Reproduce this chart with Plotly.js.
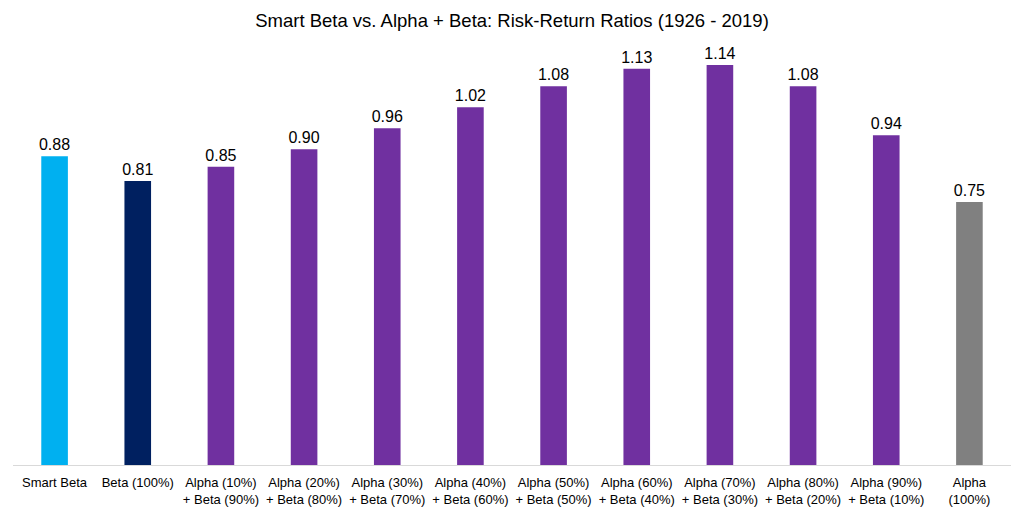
<!DOCTYPE html>
<html>
<head>
<meta charset="utf-8">
<script src="https://cdn.plot.ly/plotly-3.0.1.min.js"></script>
<style>
  html, body { margin: 0; padding: 0; background: #fff; }
  #myDiv { width: 1024px; height: 512px; }
</style>
</head>
<body>
<div id="myDiv"></div>
<script>
// categories along the x axis (two-line labels)
var categories = [
    'Smart Beta',
    'Beta (100%)',
    'Alpha (10%)<br>+ Beta (90%)',
    'Alpha (20%)<br>+ Beta (80%)',
    'Alpha (30%)<br>+ Beta (70%)',
    'Alpha (40%)<br>+ Beta (60%)',
    'Alpha (50%)<br>+ Beta (50%)',
    'Alpha (60%)<br>+ Beta (40%)',
    'Alpha (70%)<br>+ Beta (30%)',
    'Alpha (80%)<br>+ Beta (20%)',
    'Alpha (90%)<br>+ Beta (10%)',
    'Alpha<br>(100%)'
];

// risk-return ratios
var ratios = [0.88, 0.81, 0.85, 0.90, 0.96, 1.02, 1.08, 1.13, 1.14, 1.08, 0.94, 0.75];

var barColors = ['#00B0F0', '#002060',
    '#7030A0', '#7030A0', '#7030A0', '#7030A0', '#7030A0',
    '#7030A0', '#7030A0', '#7030A0', '#7030A0', '#808080'];

var trace = {
    x: categories,
    y: ratios,
    type: 'bar',
    marker: {color: barColors},
    text: ratios.map(function (v) { return v.toFixed(2); }),
    textposition: 'outside',
    constraintext: 'none',
    cliponaxis: false,
    textfont: {family: 'Liberation Sans, Arial, sans-serif', size: 16, color: '#000'},
    hoverinfo: 'none'
};

var layout = {
    width: 1024,
    height: 512,
    margin: {l: 13, r: 13, t: 9, b: 47},
    paper_bgcolor: '#fff',
    plot_bgcolor: '#fff',
    bargap: 0.68,
    showlegend: false,
    font: {family: 'Liberation Sans, Arial, sans-serif', color: '#000'},
    title: {
        text: 'Smart Beta vs. Alpha + Beta: Risk-Return Ratios (1926 - 2019)',
        font: {size: 18.5, color: '#000'},
        x: 0.5,
        xanchor: 'center',
        y: 0.96,
        yanchor: 'middle'
    },
    xaxis: {
        showgrid: false,
        showline: true,
        linecolor: '#d9d9d9',
        linewidth: 1,
        ticks: '',
        ticklabelstandoff: 5,
        tickfont: {size: 13, color: '#000'},
        fixedrange: true
    },
    yaxis: {
        range: [0, 1.3],
        visible: false,
        showgrid: false,
        zeroline: false,
        fixedrange: true
    }
};

Plotly.newPlot('myDiv', [trace], layout, {displayModeBar: false, staticPlot: true});
</script>
</body>
</html>
